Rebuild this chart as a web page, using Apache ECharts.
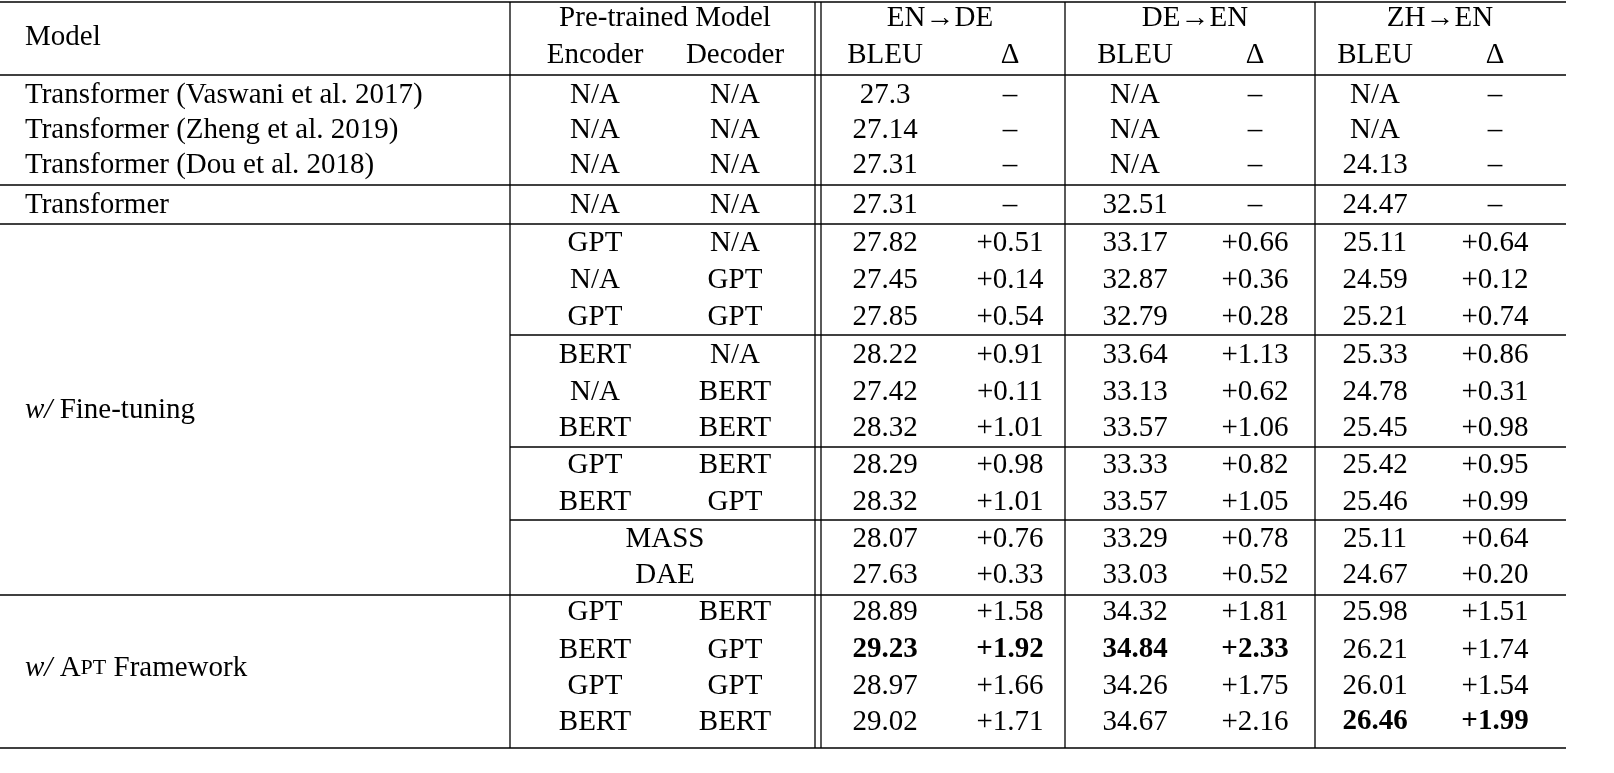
<!DOCTYPE html>
<html lang="en">
<head>
<meta charset="UTF-8">
<title>BLEU table</title>
<script src="https://cdn.jsdelivr.net/npm/echarts@6/dist/echarts.min.js"></script>
<style>
  html, body { margin: 0; padding: 0; background: #fff; }
  #main { width: 1614px; height: 773px; }
</style>
</head>
<body>
<div id="main"></div>
<script>
  // table data, one array per column
  var models = ['Transformer (Vaswani et al. 2017)', 'Transformer (Zheng et al. 2019)', 'Transformer (Dou et al. 2018)', 'Transformer'];
  var groups = ['{i|w/} Fine-tuning', '{i|w/} A{s|PT} Framework'];
  var encoders = ['N/A','N/A','N/A','N/A','GPT','N/A','GPT','BERT','N/A','BERT','GPT','BERT','MASS','DAE','GPT','BERT','GPT','BERT'];
  var decoders = ['N/A','N/A','N/A','N/A','N/A','GPT','GPT','N/A','BERT','BERT','BERT','GPT','','','BERT','GPT','GPT','BERT'];
  var enBleu = ['27.3','27.14','27.31','27.31','27.82','27.45','27.85','28.22','27.42','28.32','28.29','28.32','28.07','27.63','28.89','29.23','28.97','29.02'];
  var enDelta = ['–','–','–','–','+0.51','+0.14','+0.54','+0.91','+0.11','+1.01','+0.98','+1.01','+0.76','+0.33','+1.58','+1.92','+1.66','+1.71'];
  var deBleu = ['N/A','N/A','N/A','32.51','33.17','32.87','32.79','33.64','33.13','33.57','33.33','33.57','33.29','33.03','34.32','34.84','34.26','34.67'];
  var deDelta = ['–','–','–','–','+0.66','+0.36','+0.28','+1.13','+0.62','+1.06','+0.82','+1.05','+0.78','+0.52','+1.81','+2.33','+1.75','+2.16'];
  var zhBleu = ['N/A','N/A','24.13','24.47','25.11','24.59','25.21','25.33','24.78','25.45','25.42','25.46','25.11','24.67','25.98','26.21','26.01','26.46'];
  var zhDelta = ['–','–','–','–','+0.64','+0.12','+0.74','+0.86','+0.31','+0.98','+0.95','+0.99','+0.64','+0.20','+1.51','+1.74','+1.54','+1.99'];
  var boldCells = ['15-2','15-3','15-4','15-5','17-6','17-7'];

  // layout
  var rowY = [95,130,165,205,243,280,317,355,392,428,465,502,539,575,612,650,686,722];
  var colX = [595,735,885,1010,1135,1255,1375,1495];
  var hRules = [[2,0,1566],[75,0,1566],[185,0,1566],[224,0,1566],[335,510,1566],[447,510,1566],[520,510,1566],[595,0,1566],[748,0,1566]];
  var vRules = [510,815,821,1065,1315];

  var FONT = '"Liberation Serif", "DejaVu Serif", serif';
  var cols = [encoders, decoders, enBleu, enDelta, deBleu, deDelta, zhBleu, zhDelta];

  var cells = [];
  // header
  cells.push([25, 37, 'Model', 'left', 0]);
  cells.push([665, 18, 'Pre-trained Model', 'center', 0]);
  cells.push([595, 55, 'Encoder', 'center', 0]);
  cells.push([735, 55, 'Decoder', 'center', 0]);
  [['EN\u2192DE',940],['DE\u2192EN',1195],['ZH\u2192EN',1440]].forEach(function (h, k) {
    cells.push([h[1], 18, h[0], 'center', 0]);
    cells.push([colX[2 + 2 * k], 55, 'BLEU', 'center', 0]);
    cells.push([colX[3 + 2 * k], 55, '\u0394', 'center', 0]);
  });
  models.forEach(function (m, r) { cells.push([25, rowY[r], m, 'left', 0]); });
  cells.push([25, 410, groups[0], 'left', 0]);
  cells.push([25, 668, groups[1], 'left', 0]);
  for (var r = 0; r < rowY.length; r++) {
    for (var c = 0; c < cols.length; c++) {
      var v = cols[c][r];
      if (!v) continue;
      var x = colX[c];
      if (c === 0 && !decoders[r]) x = 665;
      cells.push([x, rowY[r], v, 'center', boldCells.indexOf(r + '-' + c) >= 0 ? 1 : 0]);
    }
  }

  var rules = [];
  hRules.forEach(function (h) { rules.push([h[1], h[0], h[2], h[0]]); });
  vRules.forEach(function (x) { rules.push([x, 2, x, 748]); });

  var myChart = echarts.init(document.getElementById('main'));
  myChart.setOption({
    animation: false,
    grid: { left: 0, right: 0, top: 0, bottom: 0 },
    xAxis: { type: 'value', min: 0, max: 1614, show: false },
    yAxis: { type: 'value', min: 0, max: 773, inverse: true, show: false },
    series: [
      {
        type: 'custom',
        data: rules,
        renderItem: function (params, api) {
          var a = api.coord([api.value(0), api.value(1)]);
          var b = api.coord([api.value(2), api.value(3)]);
          return { type: 'line', shape: { x1: a[0], y1: a[1], x2: b[0], y2: b[1] }, style: { stroke: '#000', lineWidth: 1.3 } };
        }
      },
      {
        type: 'custom',
        data: cells,
        renderItem: function (params, api) {
          var d = cells[params.dataIndex];
          var p = api.coord([d[0], d[1]]);
          return {
            type: 'text', x: p[0], y: p[1],
            style: {
              text: d[2], align: d[3], verticalAlign: 'middle',
              fontFamily: FONT, fontSize: 29, fontWeight: d[4] ? 'bold' : 'normal', fill: '#000',
              rich: {
                i: { fontFamily: FONT, fontSize: 29, fontStyle: 'italic' },
                s: { fontFamily: FONT, fontSize: 22 }
              }
            }
          };
        }
      }
    ]
  });
</script>
</body>
</html>
